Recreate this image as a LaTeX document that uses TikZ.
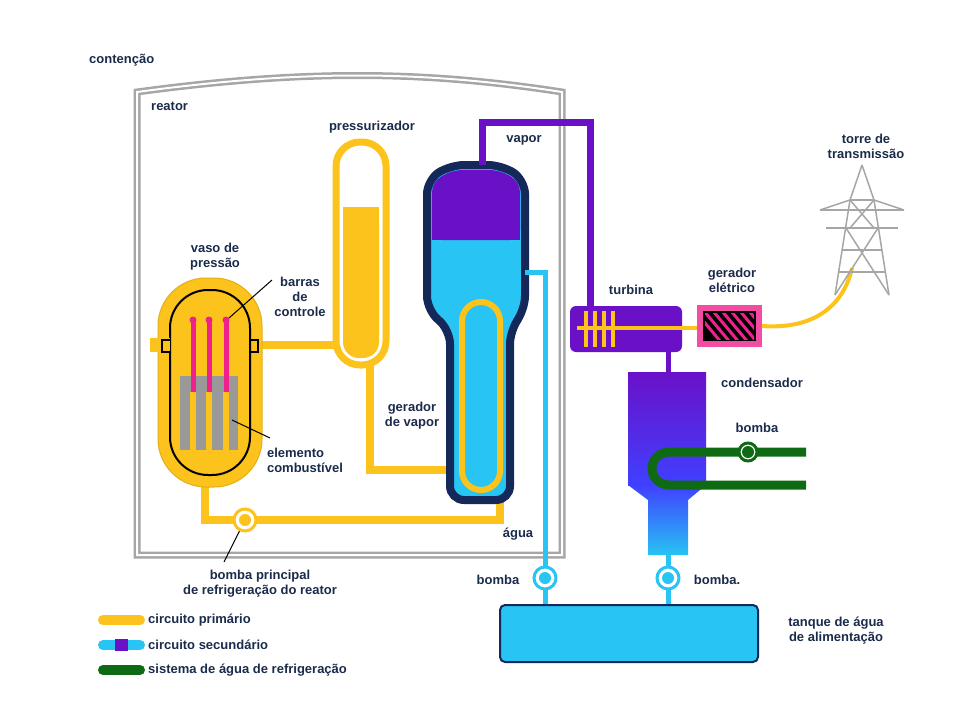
\documentclass[tikz,border=0pt]{standalone}
\usepackage{fontspec}
\setmainfont{Liberation Sans}
\usetikzlibrary{calc,positioning}
\definecolor{prim}{HTML}{FBC31B}
\definecolor{seco}{HTML}{6A11C8}
\definecolor{agua}{HTML}{27C4F4}
\definecolor{cool}{HTML}{0F6A14}
\definecolor{navy}{HTML}{14285A}
\definecolor{txt}{HTML}{1B2B4B}
\definecolor{rosa}{HTML}{F0208C}
\tikzset{
  lbl/.style={text=txt, font=\fontsize{13}{15}\selectfont\bfseries, align=center, inner sep=1pt},
  yp/.style={draw=prim, line width=8pt},
  pp/.style={draw=seco, line width=7pt},
  cp/.style={draw=agua, line width=5pt},
  gp/.style={draw=cool, line width=9pt},
  pump/.style={circle, fill=white, line width=3pt, minimum size=22pt, inner sep=0pt}
}
\begin{document}
\begin{tikzpicture}[x=1pt,y=-1pt]
\useasboundingbox (0,0) rectangle (960,720);
% containment
\draw[draw=gray!70, line width=2.5pt, double=white, double distance=2pt]
  (137,555) -- (137,92) .. controls (300,70) and (420,70) .. (562,92) -- (562,555) -- cycle;
\node[lbl, anchor=west] (cont) at (88,60) {contenção};
\node[lbl, anchor=west] (reat) at (150,106) {reator};
% primary pipes
\draw[yp] (262,345) -- (340,345);
\draw[yp] (370,360) -- (370,470) -- (462,470);
\draw[yp] (205,480) -- (205,520) -- (500,520) -- (500,480);
% reactor vessel
\draw[fill=prim, draw=prim!90!black, line width=1pt, rounded corners=48pt] (158,278) rectangle (262,487);
\draw[black, line width=2pt, rounded corners=38pt] (170,290) rectangle (250,475);
\fill[prim] (150,338) rectangle (170,352);
\draw[black, line width=2pt] (170,340) -- (162,340) -- (162,352) -- (170,352);
\draw[black, line width=2pt] (250,340) -- (258,340) -- (258,352) -- (250,352);
\fill[gray!80] (180,376) rectangle (238,450);
\foreach \x in {193,209,226} {
  \fill[prim] (\x-3,392) rectangle (\x+3,450);
  \fill[rosa] (\x-2.5,320) rectangle (\x+2.5,392);
  \fill[rosa] (\x,320) circle (3.5pt);
}
% pressurizer
\draw[prim, line width=7pt, fill=white, rounded corners=24pt] (336,142) rectangle (386,365);
\fill[prim, rounded corners=16pt] (343,207) rectangle (379,358);
\fill[prim] (343,207) rectangle (379,230);
% steam generator
\draw[navy, line width=8pt, fill=agua, rounded corners=14pt]
  (427,310) -- (427,180) -- (450,165) -- (502,165) -- (525,180) -- (525,310) -- (510,330)
  -- (510,500) -- (450,500) -- (450,330) -- cycle;
\fill[seco, rounded corners=10pt] (432,240) -- (432,182) -- (452,170) -- (500,170) -- (520,182) -- (520,240) -- cycle;
\fill[seco] (432,225) rectangle (520,240);
\draw[prim, line width=6pt, fill=agua, rounded corners=19pt] (462,302) rectangle (500,490);
% secondary
\draw[pp] (482,165) -- (482,122) -- (590,122) -- (590,308);
\draw[cp] (525,272) -- (545,272) -- (545,605);
\draw[cp] (668,555) -- (668,605);
% turbine
\fill[seco, rounded corners=6pt] (570,306) rectangle (682,352);
\draw[pp, line width=5pt] (668,352) -- (668,375);
\foreach \x in {586,595,604,613} \draw[prim, line width=4pt] (\x,311) -- (\x,347);
\draw[prim, line width=4pt] (577,328) -- (700,328);
% generator
\fill[rosa!80] (697,305) rectangle (762,347);
\fill[black] (703,311) rectangle (756,341);
\begin{scope}
  \clip (705,313) rectangle (754,339);
  \foreach \d in {0,9,...,72} \draw[rosa, line width=3pt] (695+\d,311) -- (720+\d,341);
\end{scope}
\draw[prim, line width=4pt] (762,326) .. controls (820,330) and (845,300) .. (852,268);
% tower
\begin{scope}[gray!70, line width=1.5pt]
  \draw (862,165) -- (850,200) -- (835,295);
  \draw (862,165) -- (874,200) -- (889,295);
  \draw (820,210) -- (904,210);
  \draw (826,228) -- (898,228);
  \draw (850,200) -- (874,200);
  \draw (820,210) -- (850,200) (904,210) -- (874,200);
  \draw (850,200) -- (874,228) (874,200) -- (850,228);
  \draw (846,228) -- (889,295) (878,228) -- (835,295);
  \draw (842,250) -- (882,250);
  \draw (838,272) -- (886,272);
\end{scope}
% condenser
\shade[top color=seco, bottom color=blue!75] (628,372) rectangle (706,485);
\shade[top color=blue!75, bottom color=agua] (628,485) -- (706,485) -- (688,500) -- (688,555) -- (648,555) -- (648,500) -- cycle;
\draw[gp] (806,452) -- (670,452) .. controls (646,452) and (646,485) .. (670,485) -- (806,485);
\node[pump, draw=cool, fill=white, minimum size=18pt] (pc) at (748,452) {};
\fill[cool] (pc) circle (6pt);
% pumps
\node[pump, draw=prim] (pp1) at (245,520) {};
\fill[prim] (pp1) circle (6pt);
\node[pump, draw=agua] (pa1) at (545,578) {};
\fill[agua] (pa1) circle (6pt);
\node[pump, draw=agua] (pa2) at (668,578) {};
\fill[agua] (pa2) circle (6pt);
% tank
\draw[navy, line width=2pt, fill=agua, rounded corners=5pt] (500,605) rectangle (758,662);
% labels
\node[lbl] (pres) at (372,127) {pressurizador};
\node[lbl] (vap) at (524,140) {vapor};
\node[lbl] (vaso) at (215,257) {vaso de\\pressão};
\node[lbl] (barr) at (300,297) {barras\\de\\controle};
\draw[black, line width=1pt] (272,280) -- (229,318);
\node[lbl] (gerv) at (412,416) {gerador\\de vapor};
\node[lbl, align=left] (elem) at (305,460) {elemento\\combustível};
\draw[black, line width=1pt] (232,420) -- (270,438);
\node[lbl] (agu) at (518,534) {água};
\node[lbl] (bpr) at (260,584) {bomba principal\\de refrigeração do reator};
\draw[black, line width=1pt] (pp1) -- (224,562);
\node[lbl] (bb1) at (498,580) {bomba};
\node[lbl] (bb2) at (717,580) {bomba.};
\node[lbl] (turb) at (631,290) {turbina};
\node[lbl] (gere) at (732,280) {gerador\\elétrico};
\node[lbl] (cond) at (762,383) {condensador};
\node[lbl] (bb3) at (757,428) {bomba};
\node[lbl] (torr) at (866,146) {torre de\\transmissão};
\node[lbl] (tanq) at (836,631) {tanque de água\\de alimentação};
% legend
\draw[prim, line width=10pt, line cap=round] (103,620) -- (140,620);
\draw[agua, line width=10pt, line cap=round] (103,645) -- (140,645);
\fill[seco] (115,639) rectangle (128,651);
\draw[cool, line width=10pt, line cap=round] (103,670) -- (140,670);
\node[lbl, anchor=west] (lg1) at (147,620) {circuito primário};
\node[lbl, anchor=west] (lg2) at (147,645) {circuito secundário};
\node[lbl, anchor=west] (lg3) at (147,670) {sistema de água de refrigeração};
\end{tikzpicture}
\end{document}
